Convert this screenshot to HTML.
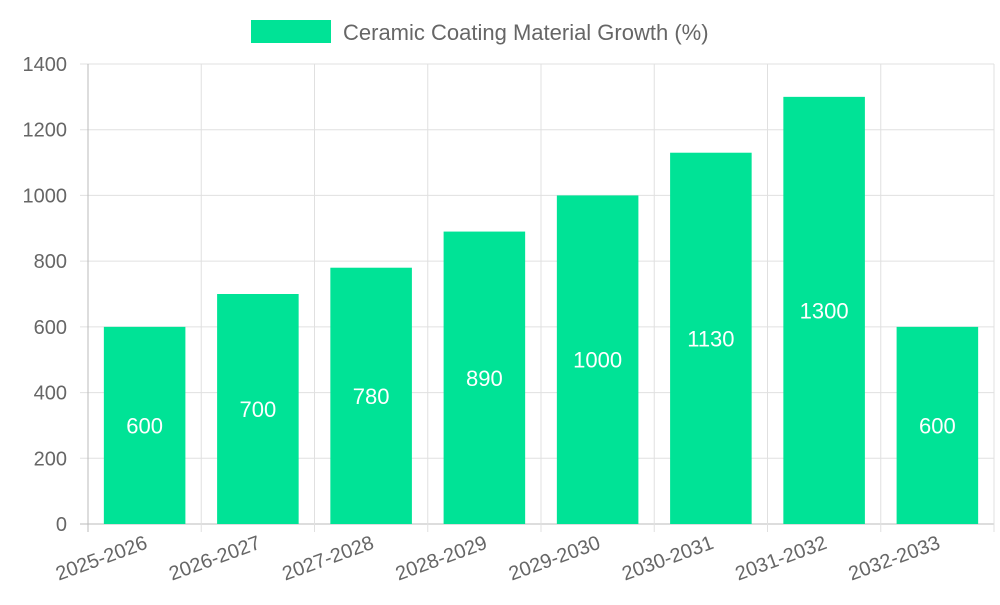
<!DOCTYPE html>
<html><head><meta charset="utf-8"><style>
body{margin:0;background:#fff;font-family:"Liberation Sans",sans-serif}
</style></head><body>
<svg id="chart" width="1000" height="600" xmlns="http://www.w3.org/2000/svg" font-family="Liberation Sans, sans-serif">
<g>
<rect x="251" y="20" width="80" height="23" fill="#00e396"/>
<text x="343" y="40" font-size="22" fill="#666">Ceramic Coating Material Growth (%)</text>
</g>
<g id="grid"></g>
<g id="bars"></g>
<g id="axes"></g>
</svg>
<script>
const categories=["2025-2026","2026-2027","2027-2028","2028-2029","2029-2030","2030-2031","2031-2032","2032-2033"];
const values=[600,700,780,890,1000,1130,1300,600];
const yTicks=[0,200,400,600,800,1000,1200,1400];
const L=88,R=994,T=64,B=524,yMax=1400;
const NS="http://www.w3.org/2000/svg";
const bw=(R-L)/categories.length;
const y=v=>B-(v/yMax)*(B-T);
const x=i=>L+i*bw;
function mk(tag,attrs,parent,txt){const e=document.createElementNS(NS,tag);for(const k in attrs)e.setAttribute(k,attrs[k]);if(txt!==undefined)e.textContent=txt;parent.appendChild(e);return e;}
const grid=document.getElementById('grid'),bars=document.getElementById('bars'),axes=document.getElementById('axes');
yTicks.forEach(t=>{
 const g=mk('line',{x1:L-8,x2:R,y1:y(t),y2:y(t),stroke:t===0?'#bbb':'#e0e0e0','stroke-width':1},grid);
 
 
 const lb=mk('text',{x:67,y:y(t)+7,'text-anchor':'end','font-size':20,fill:'#666'},axes,t);
 
 
});
for(let i=0;i<=categories.length;i++){
 const g=mk('line',{x1:x(i),x2:x(i),y1:T,y2:B+8,stroke:i===0?'#bbb':'#e0e0e0','stroke-width':1},grid);
 
 
}
categories.forEach((c,i)=>{
 const cx=x(i)+bw/2,w=bw*0.72;
 const r=mk('rect',{x:cx-w/2,y:y(values[i]),width:w,height:B-y(values[i]),fill:'#00e396'},bars);
 
 
 const vl=mk('text',{x:cx,y:(y(values[i])+B)/2+8,'text-anchor':'middle','font-size':22,fill:'#fff'},bars,values[i]);
 
 
 const xl=mk('text',{x:cx+4,y:B+24,'text-anchor':'end','font-size':20,fill:'#666',transform:`rotate(-20 ${cx+4} ${B+24})`},axes,c);
 
 
});
</script>
</body></html>
